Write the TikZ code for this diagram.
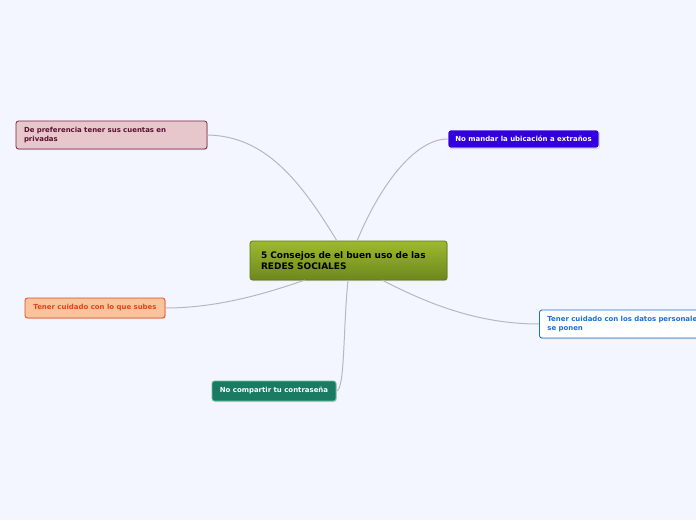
\documentclass[tikz,border=0pt]{standalone}
\usepackage{fontspec}
\setmainfont{DejaVu Sans}
\usetikzlibrary{shadows}
\definecolor{bg}{HTML}{F3F6FE}
\definecolor{link}{HTML}{B6B8BE}
\definecolor{olivetop}{HTML}{9DB92F}
\definecolor{olivebot}{HTML}{6D881D}
\definecolor{olivedraw}{HTML}{5E7815}
\definecolor{pinkfill}{HTML}{E8C7CC}
\definecolor{pinkdraw}{HTML}{7A2440}
\definecolor{pinktext}{HTML}{5A1030}
\definecolor{violet}{HTML}{3300E0}
\definecolor{bluetext}{HTML}{1A6FD8}
\definecolor{orfill}{HTML}{F9C49C}
\definecolor{ordraw}{HTML}{E8481C}
\definecolor{ortext}{HTML}{E8401A}
\definecolor{grfill}{HTML}{1B7A62}
\definecolor{grdraw}{HTML}{6CC0A0}
\tikzset{
  topic/.style={rounded corners=2.5pt, font=\bfseries\fontsize{6.95}{9}\selectfont,
    drop shadow={shadow xshift=0.8pt, shadow yshift=-1pt, opacity=0.25}, line width=0.8pt},
  conn/.style={draw=link, line width=1pt},
}
\begin{document}
\begin{tikzpicture}[x=1pt,y=-1pt]
\fill[bg] (0,0) rectangle (696,520);
\useasboundingbox (0,0) rectangle (696,520);
% central
\node[rounded corners=2.5pt, draw=olivedraw, line width=0.8pt, top color=olivetop, bottom color=olivebot,
  minimum width=197pt, minimum height=39pt, text width=175pt, align=left, inner xsep=11pt,
  font=\bfseries\fontsize{9}{11}\selectfont,
  drop shadow={shadow xshift=0.8pt, shadow yshift=-1pt, opacity=0.25}] (c) at (348.5,260.5)
  {5 Consejos de el buen uso de las\\REDES SOCIALES};
% pink
\node[topic, draw=pinkdraw, fill=pinkfill, text=pinktext, minimum width=191pt, minimum height=28pt,
  text width=175pt, align=left, inner xsep=8pt] (p) at (111.5,135)
  {De preferencia tener sus cuentas en\\privadas};
% violet
\node[topic, draw=white, fill=violet, text=white, minimum width=151pt, minimum height=18pt, inner sep=0pt] (v) at (523.5,139)
  {No mandar la ubicación a extraños};
% right white
\node[topic, draw=bluetext, fill=white, text=bluetext, minimum width=200pt, minimum height=28pt,
  text width=184pt, align=left, inner xsep=8pt, anchor=west] (w) at (539,324)
  {Tener cuidado con los datos personales\\se ponen};
% orange
\node[topic, draw=ordraw, fill=orfill, text=ortext, minimum width=140pt, minimum height=20pt, inner sep=0pt] (o) at (95,308)
  {Tener cuidado con lo que subes};
% green
\node[topic, draw=grdraw, fill=grfill, text=white, minimum width=124pt, minimum height=20pt, inner sep=0pt] (g) at (274,391)
  {No compartir tu contraseña};
% connectors
\coordinate (c1) at (337,241);
\coordinate (c2) at (357,241);
\coordinate (c3) at (305,280);
\coordinate (c4) at (348,280);
\coordinate (c5) at (382,280);
\draw[conn] (p.east) .. controls (265,136) and (300,180) .. (c1);
\draw[conn] (v.west) .. controls (415,139) and (380,185) .. (c2);
\draw[conn] (o.east) .. controls (220,308) and (270,292) .. (c3);
\draw[conn] (g.east) .. controls (345,390) and (343,330) .. (c4);
\draw[conn] (w.west) .. controls (480,324) and (430,305) .. (c5);
\end{tikzpicture}
\end{document}
